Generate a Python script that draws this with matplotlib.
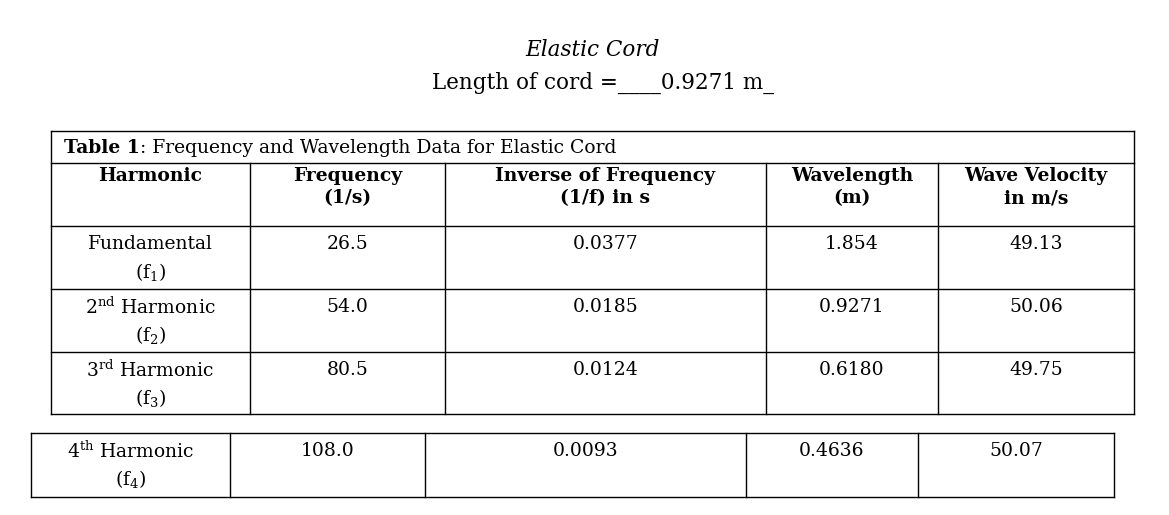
import matplotlib
matplotlib.use("Agg")
import matplotlib.pyplot as plt
from matplotlib.lines import Line2D

plt.rcParams['font.family'] = ['DejaVu Serif']
plt.rcParams['mathtext.fontset'] = 'dejavuserif'

title = "Elastic Cord"
subtitle = "Length of cord =____0.9271 m_"
table_title_bold = "Table 1"
table_title_rest = ": Frequency and Wavelength Data for Elastic Cord"
headers = ["Harmonic", "Frequency\n(1/s)", "Inverse of Frequency\n(1/f) in s", "Wavelength\n(m)", "Wave Velocity\nin m/s"]
harmonic_names = ["Fundamental", "2$^{\\rm nd}$ Harmonic", "3$^{\\rm rd}$ Harmonic", "4$^{\\rm th}$ Harmonic"]
harmonic_subs = ["(f$_1$)", "(f$_2$)", "(f$_3$)", "(f$_4$)"]
frequency = ["26.5", "54.0", "80.5", "108.0"]
inverse_freq = ["0.0377", "0.0185", "0.0124", "0.0093"]
wavelength = ["1.854", "0.9271", "0.6180", "0.4636"]
velocity = ["49.13", "50.06", "49.75", "50.07"]

W, H = 1169, 515
fig = plt.figure(figsize=(W/100, H/100), dpi=100)
ax = fig.add_axes([0, 0, 1, 1])
ax.set_xlim(0, W); ax.set_ylim(H, 0); ax.axis('off')

def line(x0, y0, x1, y1):
    ax.add_line(Line2D([x0, x1], [y0, y1], color='black', lw=1))

def rect(x0, y0, x1, y1):
    line(x0, y0, x1, y0); line(x0, y1, x1, y1); line(x0, y0, x0, y1); line(x1, y0, x1, y1)

fs = 13.5
ax.text(593, 50, title, ha='center', va='center', fontsize=15.5, style='italic')
ax.text(603, 83, subtitle, ha='center', va='center', fontsize=15.5)

# Table 1
x0, x1 = 51, 1134
cols = [51, 250, 445, 766, 938, 1134]
rows = [131, 163, 226, 289, 352, 414]
rect(x0, rows[0], x1, rows[-1])
for y in rows[1:-1]:
    line(x0, y, x1, y)
for x in cols[1:-1]:
    line(x, rows[1], x, rows[-1])
t = ax.text(64, 148, table_title_bold, ha='left', va='center', fontsize=fs, fontweight='bold')
fig.canvas.draw()
bb = t.get_window_extent()
ax.text(64 + bb.width, 148, table_title_rest, ha='left', va='center', fontsize=fs)

centers = [(cols[i] + cols[i+1]) / 2 for i in range(5)]
for i, h in enumerate(headers):
    ax.text(centers[i], 167, h, ha='center', va='top', fontsize=fs, fontweight='bold', linespacing=1.3)

def data_row(ctrs, ytop, i):
    ax.text(ctrs[0], ytop + 18, harmonic_names[i], ha='center', va='center', fontsize=fs)
    ax.text(ctrs[0], ytop + 46, harmonic_subs[i], ha='center', va='center', fontsize=fs)
    for j, v in enumerate([frequency[i], inverse_freq[i], wavelength[i], velocity[i]]):
        ax.text(ctrs[j+1], ytop + 18, v, ha='center', va='center', fontsize=fs)

for i in range(3):
    data_row(centers, rows[2+i], i)

# Table 2
cols2 = [31, 230, 425, 746, 918, 1114]
r0, r1 = 433, 497
rect(cols2[0], r0, cols2[-1], r1)
for x in cols2[1:-1]:
    line(x, r0, x, r1)
centers2 = [(cols2[i] + cols2[i+1]) / 2 for i in range(5)]
data_row(centers2, r0, 3)

fig.savefig("out.png", dpi=100)
